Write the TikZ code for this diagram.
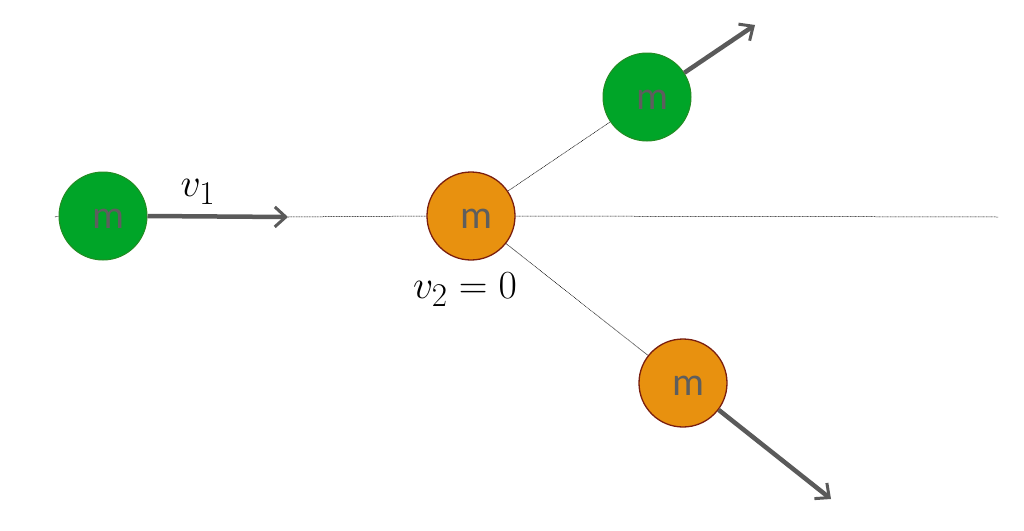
\documentclass[tikz,border=0pt]{standalone}
\usepackage{fontspec}
\newfontfamily\mfont{Carlito}
\usetikzlibrary{arrows.meta}
\definecolor{ballgreen}{HTML}{00A528}
\definecolor{greenedge}{HTML}{238C23}
\definecolor{ballorange}{HTML}{E8910F}
\definecolor{orangeedge}{HTML}{7A1E0E}
\definecolor{arrowgray}{HTML}{5A5A5A}
\definecolor{mgray}{HTML}{5E5E5E}
\begin{document}
\begin{tikzpicture}[x=1pt,y=-1pt,
  greenball/.style={circle,minimum size=88pt,inner sep=0pt,fill=ballgreen,draw=greenedge,line width=1pt},
  orangeball/.style={circle,minimum size=88pt,inner sep=0pt,fill=ballorange,draw=orangeedge,line width=1.3pt},
  mlabel/.style={font=\mfont\fontsize{40}{40}\selectfont,text=mgray},
  vel/.style={draw=arrowgray,line width=4.5pt,-{Straight Barb[length=11pt,width=20pt,line width=3pt]}},
  guide/.style={draw=black,line width=0.5pt,dash pattern=on 1pt off 0.6pt},
  mathlbl/.style={font=\fontsize{30}{30}\selectfont,scale=1.6,transform shape}]
\useasboundingbox (0,0) rectangle (1024,530);
\coordinate (L) at (55,217);
\coordinate (R) at (998,217);
\coordinate (T1) at (288,217);
\coordinate (T2) at (755,25);
\coordinate (T3) at (831,499);
\node[greenball] (A) at (103,216) {};
\node[orangeball] (B) at (471,216) {};
\node[greenball] (C) at (647,97) {};
\node[orangeball] (D) at (683,383) {};
% guide lines
\draw[guide] (L) -- (A.west);
\draw[guide] (T1) -- (B.west);
\draw[guide] (B.east) -- (R);
\draw[guide] (B) -- (C);
\draw[guide] (B) -- (D);
% mass labels
\node[mlabel] (mA) at ([shift={(5,3)}]A) {m};
\node[mlabel] (mB) at ([shift={(5,3)}]B) {m};
\node[mlabel] (mC) at ([shift={(5,3)}]C) {m};
\node[mlabel] (mD) at ([shift={(5,3)}]D) {m};
% velocity arrows
\draw[vel] (A.east) -- (T1);
\draw[vel] (C.33.5) -- (T2);
\draw[vel] (D.-37.7) -- (T3);
% labels
\node[mathlbl] (v1) at (198,192) {$v_1$};
\node[mathlbl] (v2) at (465,290) {$v_2=0$};
\end{tikzpicture}
\end{document}
